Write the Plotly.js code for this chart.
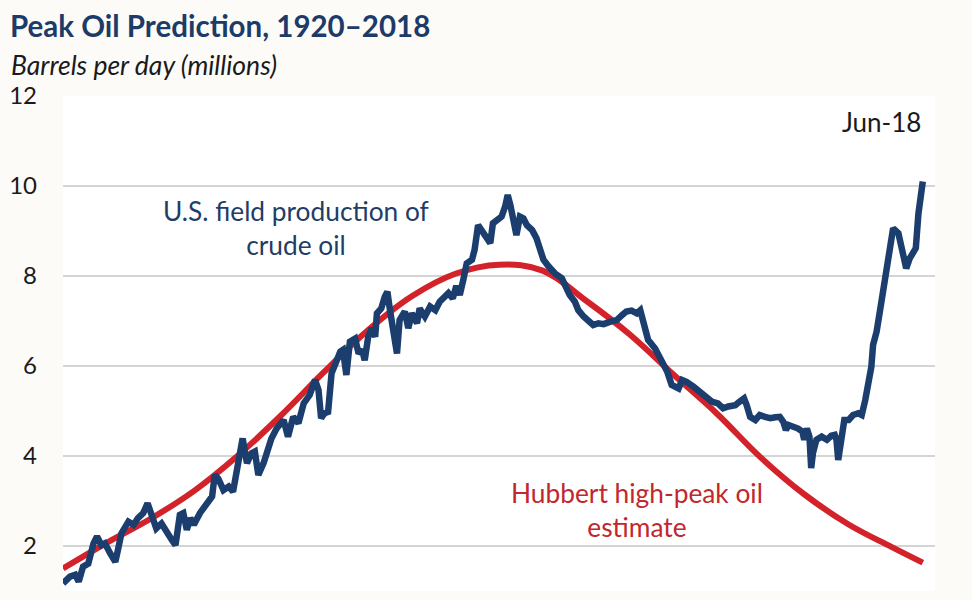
<!DOCTYPE html>
<html>
<head>
<meta charset="utf-8">
<script src="https://cdn.plot.ly/plotly-3.0.1.min.js"></script>
<style>
html,body{margin:0;padding:0;background:#fdfbf8;}
#chart{width:972px;height:600px;}
</style>
</head>
<body>
<div id="chart"></div>
<script>
// U.S. field production of crude oil (million barrels per day)
const prodYears = [1920.0,1920.8,1921.4,1921.8,1922.3,1922.9,1923.5,1923.9,1924.4,1924.8,1925.4,1926.0,1926.3,1926.7,1927.5,1928.1,1928.6,1929.2,1929.7,1930.2,1930.7,1931.3,1931.9,1932.5,1932.9,1933.4,1933.8,1934.2,1934.6,1935.0,1935.7,1936.5,1937.1,1937.4,1937.8,1938.4,1939.0,1939.5,1939.9,1940.6,1941.1,1941.6,1942.0,1942.4,1943.0,1943.5,1943.9,1944.5,1945.3,1945.8,1946.4,1947.0,1947.6,1948.3,1948.9,1949.3,1949.6,1950.0,1950.4,1950.8,1951.4,1951.8,1952.1,1952.5,1952.9,1953.5,1953.9,1954.3,1954.6,1955.0,1955.4,1955.8,1956.0,1956.5,1956.9,1957.2,1957.5,1957.8,1958.3,1958.6,1959.2,1959.6,1960.0,1960.6,1960.9,1961.5,1962.1,1962.7,1963.2,1964.2,1964.7,1965.1,1965.5,1965.9,1966.3,1966.9,1967.2,1967.6,1968.0,1968.4,1969.0,1969.3,1969.9,1970.3,1970.7,1971.0,1971.3,1971.6,1972.0,1972.4,1972.8,1973.2,1973.8,1974.3,1974.7,1975.1,1975.7,1976.4,1977.2,1977.6,1978.1,1978.7,1979.1,1979.7,1980.2,1980.8,1981.4,1982.0,1982.7,1983.5,1984.1,1984.6,1985.2,1985.8,1986.2,1986.6,1987.1,1987.9,1988.3,1988.7,1989.3,1989.8,1990.2,1990.6,1991.0,1991.5,1992.3,1993.0,1993.8,1994.4,1995.1,1995.7,1996.3,1997.1,1997.6,1998.1,1998.4,1998.8,1999.4,1999.9,2000.5,2001.1,2001.7,2002.2,2002.6,2002.9,2003.2,2003.8,2004.3,2004.8,2005.0,2005.3,2005.6,2005.8,2006.0,2006.4,2007.0,2007.6,2008.1,2008.5,2008.7,2008.9,2009.2,2009.6,2010.1,2010.6,2011.2,2011.6,2012.0,2012.4,2012.7,2012.9,2013.3,2013.7,2014.1,2014.5,2014.9,2015.2,2015.8,2016.2,2016.7,2017.1,2017.8,2018.1,2018.6];
const prodValues = [1.17,1.32,1.36,1.21,1.54,1.61,2.06,2.21,2.02,2.06,1.84,1.65,1.91,2.28,2.54,2.47,2.62,2.73,2.95,2.65,2.39,2.50,2.28,2.13,2.02,2.69,2.73,2.36,2.62,2.47,2.73,2.91,3.10,3.58,3.50,3.24,3.32,3.21,3.62,4.39,3.84,4.06,4.10,3.58,3.84,4.17,4.39,4.61,4.80,4.43,4.87,4.73,5.17,5.36,5.69,5.47,4.84,4.95,4.98,5.84,6.10,6.32,6.36,5.80,6.54,6.61,6.28,6.36,6.13,6.65,6.84,6.65,7.17,7.28,7.54,7.65,7.24,6.87,6.28,7.02,7.21,6.84,7.17,6.95,7.28,7.10,7.32,7.24,7.43,7.62,7.50,7.78,7.58,7.91,8.28,8.36,8.58,9.13,9.02,8.87,8.73,9.17,9.28,9.32,9.54,9.80,9.58,9.24,8.91,9.32,9.28,9.13,9.02,8.84,8.58,8.36,8.21,8.06,7.95,7.76,7.58,7.43,7.24,7.10,7.02,6.91,6.95,6.93,6.98,7.02,7.13,7.21,7.23,7.17,7.24,6.87,6.58,6.39,6.24,6.02,5.87,5.58,5.54,5.50,5.69,5.65,5.54,5.43,5.28,5.21,5.17,5.06,5.10,5.13,5.21,5.28,5.13,4.87,4.80,4.91,4.87,4.84,4.86,4.87,4.76,4.58,4.69,4.65,4.61,4.54,4.36,4.61,4.43,3.73,4.06,4.36,4.43,4.36,4.45,4.47,4.36,3.91,4.43,4.80,4.80,4.91,4.95,4.91,5.24,5.69,5.98,6.47,6.76,7.24,7.69,8.28,8.76,9.06,8.95,8.65,8.17,8.39,8.62,9.39,10.10];

// Hubbert high-peak oil estimate
const hubbertYears = [1920,1925,1930,1935,1940,1945,1950,1955,1960,1965,1970,1975,1980,1985,1990,1995,2000,2005,2010,2015,2018.6];
const hubbertValues = [1.50,2.07,2.60,3.22,4.00,4.90,5.88,6.80,7.55,8.05,8.25,8.12,7.45,6.70,5.81,4.94,3.97,3.15,2.49,1.98,1.63];

const yTicks = [2,4,6,8,10,12];
const yTickLabels = ['2','4','6','8','10','12'];

const navy = '#1b3e6e';
const red = '#d3222a';
const FONT = 'Lato, "Noto Sans", sans-serif';

const traces = [
  {
    x: hubbertYears, y: hubbertValues, type: 'scatter', mode: 'lines',
    line: {color: red, width: 6, shape: 'spline', smoothing: 1.1},
    hoverinfo: 'skip', showlegend: false
  },
  {
    x: prodYears, y: prodValues, type: 'scatter', mode: 'lines',
    line: {color: navy, width: 6.5},
    hoverinfo: 'skip', showlegend: false
  }
];

const layout = {
  width: 972, height: 600,
  paper_bgcolor: '#fdfbf8',
  plot_bgcolor: '#ffffff',
  margin: {l: 63, r: 37, t: 96, b: 9, pad: 0},
  showlegend: false,
  font: {family: FONT, color: '#1a1a1a'},
  title: {
    text: '<b>Peak Oil Prediction, 1920–2018</b>',
    font: {family: FONT, size: 29.5, color: '#1c3b69'},
    xref: 'container', yref: 'container',
    x: 10/972, xanchor: 'left',
    y: 1 - 27/600, yanchor: 'middle'
  },
  xaxis: {
    range: [1920, 2020],
    showgrid: false, zeroline: false, showline: false,
    showticklabels: false, ticks: ''
  },
  yaxis: {
    range: [1, 12],
    tickvals: yTicks, ticktext: yTickLabels,
    showgrid: true, gridcolor: '#d4d4d4', gridwidth: 2,
    zeroline: false, showline: false, ticks: '',
    tickfont: {family: FONT, size: 24, color: '#1a1a1a'},
    ticklabelstandoff: 25
  },
  annotations: [
    {
      text: '<i>Barrels per day (millions)</i>',
      xref: 'paper', yref: 'paper',
      x: (9-63)/872, xanchor: 'left',
      y: (591-65)/495, yanchor: 'middle',
      showarrow: false,
      font: {family: FONT, size: 26.5, color: '#1a1a1a'}
    },
    {
      text: 'U.S. field production of<br>crude oil',
      xref: 'x', yref: 'y',
      x: 1946.7, y: 9.06, xanchor: 'center', yanchor: 'middle',
      showarrow: false, align: 'center',
      font: {family: FONT, size: 26.3, color: '#1f3d66'}
    },
    {
      text: 'Hubbert high-peak oil<br>estimate',
      xref: 'x', yref: 'y',
      x: 1985.8, y: 2.81, xanchor: 'center', yanchor: 'middle',
      showarrow: false, align: 'center',
      font: {family: FONT, size: 26.3, color: '#c1272d'}
    },
    {
      text: 'Jun-18',
      xref: 'x', yref: 'y',
      x: 2018.6, y: 11.42, xanchor: 'right', yanchor: 'middle',
      showarrow: false,
      font: {family: FONT, size: 26, color: '#1a1a1a'}
    }
  ]
};

Plotly.newPlot('chart', traces, layout, {staticPlot: true, displayModeBar: false});
</script>
</body>
</html>
